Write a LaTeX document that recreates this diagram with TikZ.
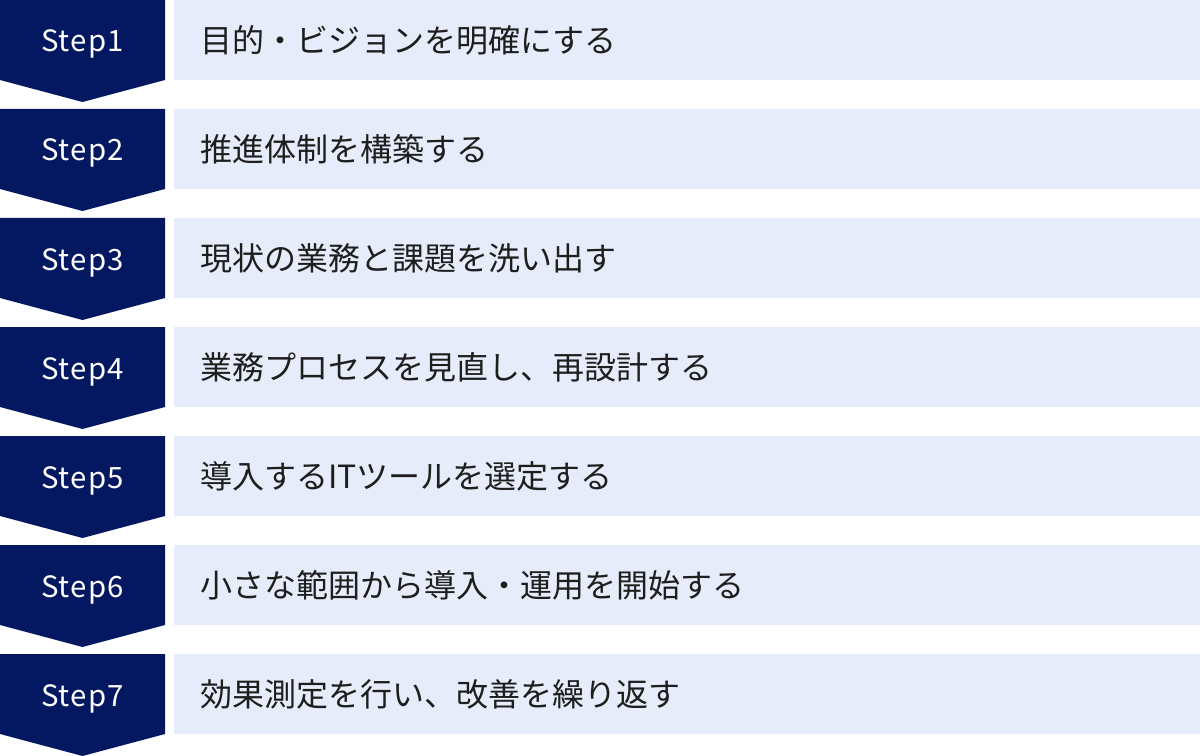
\documentclass[tikz,border=0pt]{standalone}
\usepackage{fontspec}
\usepackage{tikz}
\usetikzlibrary{positioning}
\newfontfamily\jpfont{Noto Sans CJK JP}
\newfontfamily\stepfont[LetterSpace=4]{Noto Sans CJK JP}
\definecolor{stepnavy}{HTML}{041862}
\definecolor{tasklight}{HTML}{E6ECF9}
\definecolor{taskink}{HTML}{1E1E1E}
\begin{document}
\begin{tikzpicture}[x=0.75pt,y=0.75pt,yscale=-1,xscale=1]
  \useasboundingbox (0,0) rectangle (1200,756); %keep the 1200x756 frame
  \tikzstyle{stepshape} = [fill=stepnavy]
  \tikzstyle{taskbox} = [fill=tasklight]
  \tikzstyle{steplabel} = [anchor=base,inner sep=0pt,text=white,font=\stepfont\fontsize{22}{26}\selectfont]
  \tikzstyle{tasklabel} = [anchor=west,inner sep=0pt,text=taskink,font=\jpfont\fontsize{24}{28}\selectfont]
%Step 1
 \fill[stepshape] (0,0) -- (165,0) -- (165,80) -- (82.5,102) -- (0,80) -- cycle;
 \fill[taskbox] (174,0) rectangle (1200,80);
 \node[steplabel] (s1) at (82.5,52) {Step1};
 \node[tasklabel] (t1) at (200,40) {目的・ビジョンを明確にする};
%Step 2
 \fill[stepshape] (0,109) -- (165,109) -- (165,189) -- (82.5,211) -- (0,189) -- cycle;
 \fill[taskbox] (174,109) rectangle (1200,189);
 \node[steplabel] (s2) at (82.5,161) {Step2};
 \node[tasklabel] (t2) at (200,149) {推進体制を構築する};
%Step 3
 \fill[stepshape] (0,218) -- (165,218) -- (165,298) -- (82.5,320) -- (0,298) -- cycle;
 \fill[taskbox] (174,218) rectangle (1200,298);
 \node[steplabel] (s3) at (82.5,270) {Step3};
 \node[tasklabel] (t3) at (200,258) {現状の業務と課題を洗い出す};
%Step 4
 \fill[stepshape] (0,327) -- (165,327) -- (165,407) -- (82.5,429) -- (0,407) -- cycle;
 \fill[taskbox] (174,327) rectangle (1200,407);
 \node[steplabel] (s4) at (82.5,379) {Step4};
 \node[tasklabel] (t4) at (200,367) {業務プロセスを見直し、再設計する};
%Step 5
 \fill[stepshape] (0,436) -- (165,436) -- (165,516) -- (82.5,538) -- (0,516) -- cycle;
 \fill[taskbox] (174,436) rectangle (1200,516);
 \node[steplabel] (s5) at (82.5,488) {Step5};
 \node[tasklabel] (t5) at (200,476) {導入するITツールを選定する};
%Step 6
 \fill[stepshape] (0,545) -- (165,545) -- (165,625) -- (82.5,647) -- (0,625) -- cycle;
 \fill[taskbox] (174,545) rectangle (1200,625);
 \node[steplabel] (s6) at (82.5,597) {Step6};
 \node[tasklabel] (t6) at (200,585) {小さな範囲から導入・運用を開始する};
%Step 7
 \fill[stepshape] (0,654) -- (165,654) -- (165,734) -- (82.5,756) -- (0,734) -- cycle;
 \fill[taskbox] (174,654) rectangle (1200,734);
 \node[steplabel] (s7) at (82.5,706) {Step7};
 \node[tasklabel] (t7) at (200,694) {効果測定を行い、改善を繰り返す};
\end{tikzpicture}
\end{document}
